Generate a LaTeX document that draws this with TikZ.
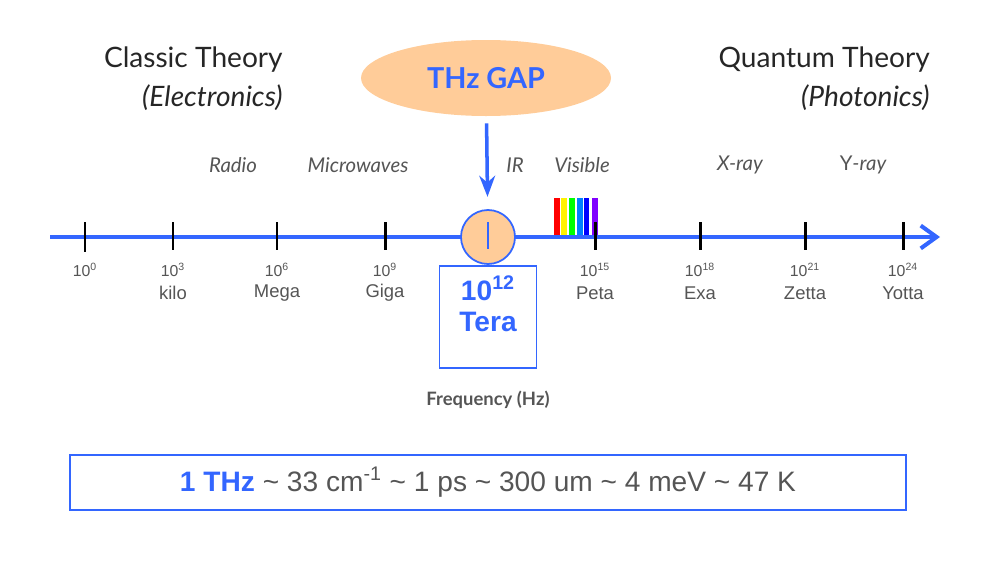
\documentclass[tikz,border=0pt]{standalone}
\usepackage{fontspec}
\setmainfont{Lato}
\newfontfamily\numfont{Liberation Sans}
\usetikzlibrary{positioning,arrows.meta,shapes.geometric}

\definecolor{thzblue}{HTML}{3366FF}
\definecolor{peach}{HTML}{FFCC99}
\definecolor{labelgray}{HTML}{555555}
\definecolor{azure}{HTML}{0080FF}
\definecolor{violet}{HTML}{8000FF}

\tikzset{
  axisline/.style={draw=thzblue, line width=2.3pt},
  tickmark/.style={line width=1.7pt, black},
  exptext/.style={font=\numfont\fontsize{9}{10}\selectfont, text=labelgray, inner sep=0pt},
  unitname/.style={font=\numfont\fontsize{10.5}{12}\selectfont, text=labelgray, inner sep=0pt},
  bandname/.style={font=\itshape\fontsize{11.6}{13}\selectfont, text=labelgray, inner sep=0pt},
  theory/.style={font=\fontsize{16}{18}\selectfont, text=black!85, inner sep=0pt, anchor=east},
  terafont/.style={font=\numfont\bfseries\fontsize{16}{19}\selectfont, text=thzblue, inner sep=0pt},
}

\begin{document}
\begin{tikzpicture}[x=0.02cm, y=-0.02cm, >=Stealth]
\useasboundingbox (0,0) rectangle (993,565);

% Theories
\node[theory] (classic) at (283,60) {Classic Theory};
\node[theory] (electronics) at (283,98) {\itshape(Electronics)};
\node[theory] (quantum) at (930,60) {Quantum Theory};
\node[theory] (photonics) at (930,98) {\itshape(Photonics)};

% THz gap
\node[ellipse, fill=peach, minimum width=250*0.02cm, minimum height=76*0.02cm,
      font=\bfseries\fontsize{16.4}{18}\selectfont, text=thzblue] (gap) at (486,78) {THz GAP};

% Bands
\node[bandname] (radio) at (233,165) {Radio};
\node[bandname] (micro) at (358,165) {Microwaves};
\node[bandname] (ir) at (515,165) {IR};
\node[bandname] (visible) at (582,165) {Visible};
\node[bandname] (xray) at (740,165) {X-ray};
\node[bandname] (gamma) at (863,165) {{\upshape Υ}-ray};

% Axis
\coordinate (axstart) at (50,237);
\coordinate (axend) at (940,237);
\draw[axisline, -{Straight Barb[length=9pt, width=13pt, line width=2.3pt]}] (axstart) -- (axend);

% Visible spectrum
\foreach \xa/\xb/\col in {554/559.5/red, 560.7/566.7/yellow, 569/574.7/green,
                          577/582.7/azure, 583.7/589/blue, 592/597.7/violet}
  \fill[\col] (\xa,198) rectangle (\xb,235);

% Ticks and labels
\foreach \x/\e/\name in {173/3/kilo, 277/6/Mega, 385/9/Giga, 595/15/Peta,
                         700/18/Exa, 805/21/Zetta, 903/24/Yotta} {
  \draw[tickmark] (\x,222) -- (\x,250);
  \node[exptext] at (\x,270) {10\textsuperscript{\e}};
  \node[unitname] at (\x,293) {\name};
}
\draw[tickmark] (85,222) -- (85,252);
\node[exptext] (zero) at (85,270) {10\textsuperscript{0}};

% Terahertz
\node[circle, fill=peach, draw=thzblue, line width=1pt, minimum size=54*0.02cm, inner sep=0pt] (thz) at (488,237) {};
\draw[thzblue, line width=1.5pt] (488,222) -- (488,249);
\draw[->, thzblue, line width=2pt, shorten <=4pt, shorten >=7pt] (gap) -- (thz);

\node[draw=thzblue, line width=1pt, minimum width=97*0.02cm, minimum height=102*0.02cm,
      anchor=north] (tera) at (488,265) {};
\node[terafont] (teraexp) at (488,288) {10\textsuperscript{12}};
\node[terafont] (teraname) at (488,322) {Tera};

\node[font=\bfseries\fontsize{10.5}{12}\selectfont, text=labelgray] (freq) at (488,400) {Frequency (Hz)};

% Equivalence
\node[draw=thzblue, line width=1pt, minimum width=836*0.02cm, minimum height=55*0.02cm,
      font=\numfont\fontsize{16}{18}\selectfont, text=labelgray] (equiv) at (488,482.5)
  {\textcolor{thzblue}{\bfseries 1 THz} \textasciitilde{} 33 cm\textsuperscript{-1} \textasciitilde{} 1 ps \textasciitilde{} 300 um \textasciitilde{} 4 meV \textasciitilde{} 47 K};
\end{tikzpicture}
\end{document}
